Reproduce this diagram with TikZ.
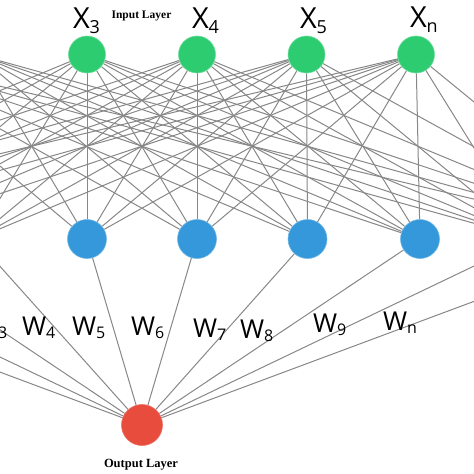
\documentclass[tikz,border=0pt]{standalone}
\usepackage{fontspec}
\setmainfont{Liberation Serif}
\newfontfamily\labfont{Open Sans}
\pgfdeclarelayer{background}
\pgfsetlayers{background,main}
\definecolor{ingreen}{RGB}{46,204,113}
\definecolor{hidblue}{RGB}{52,152,219}
\definecolor{outred}{RGB}{231,76,60}
\definecolor{edgegray}{RGB}{135,135,135}
\tikzset{
  inneuron/.style={circle,fill=ingreen,draw=ingreen!70!white,line width=0.6pt,minimum size=37pt,inner sep=0pt},
  hidneuron/.style={circle,fill=hidblue,draw=hidblue!70!white,line width=0.6pt,minimum size=39pt,inner sep=0pt},
  outneuron/.style={circle,fill=outred,draw=outred!80!white,line width=0.6pt,minimum size=41pt,inner sep=0pt},
  conn/.style={draw=edgegray,line width=1pt},
  lbl/.style={anchor=base west,inner sep=0pt,outer sep=0pt,font=\labfont},
  layertxt/.style={anchor=base,inner sep=0pt,font=\bfseries}
}
\newcommand{\xlab}[1]{{\fontsize{29}{30}\selectfont X}\raisebox{-5pt}{\fontsize{18}{20}\selectfont #1}}
\newcommand{\wlab}[1]{{\fontsize{26}{28}\selectfont W}\raisebox{-3pt}{\fontsize{16}{18}\selectfont #1}}
\begin{document}
\begin{tikzpicture}[x=1pt,y=-1pt]
\useasboundingbox (0,0) rectangle (474,474);
\clip (0,0) rectangle (474,474);
% input layer
\foreach \i/\x in {1/-133,2/-23,3/87,4/197,5/306.5,6/416}
  \node[inneuron] (i\i) at (\x,54.5) {};
% hidden layer
\foreach \j/\x in {1/-357.5,2/-246.5,3/-135.5,4/-24.5,5/87,6/197,7/307.5,8/420,9/530.5,10/641.5}
  \node[hidneuron] (h\j) at (\x,239) {};
% output
\node[outneuron] (o) at (142,425) {};
\begin{pgfonlayer}{background}
\foreach \i in {1,...,6}
  \foreach \j in {1,...,10}
    \draw[conn] (i\i) -- (h\j);
\foreach \j in {1,...,10}
  \draw[conn] (o) -- (h\j);
\end{pgfonlayer}
% labels
\node[lbl] (x3) at (73,28) {\xlab{3}};
\node[lbl] (x4) at (192,28) {\xlab{4}};
\node[lbl] (x5) at (300,28) {\xlab{5}};
\node[lbl] (xn) at (410,27) {\xlab{n}};
\node[layertxt,font=\bfseries\fontsize{11.5}{13}\selectfont] (inl) at (141.5,18.5) {Input Layer};
\node[layertxt,font=\bfseries\fontsize{12.5}{14}\selectfont] (outl) at (141,467) {Output Layer};
\node[lbl] (w3) at (-26,335) {\wlab{3}};
\node[lbl] (w4) at (22,335) {\wlab{4}};
\node[lbl] (w5) at (72,335) {\wlab{5}};
\node[lbl] (w6) at (131,335) {\wlab{6}};
\node[lbl] (w7) at (193,337) {\wlab{7}};
\node[lbl] (w8) at (240,338) {\wlab{8}};
\node[lbl] (w9) at (313,332) {\wlab{9}};
\node[lbl] (wn) at (383,330) {\wlab{n}};
\end{tikzpicture}
\end{document}
